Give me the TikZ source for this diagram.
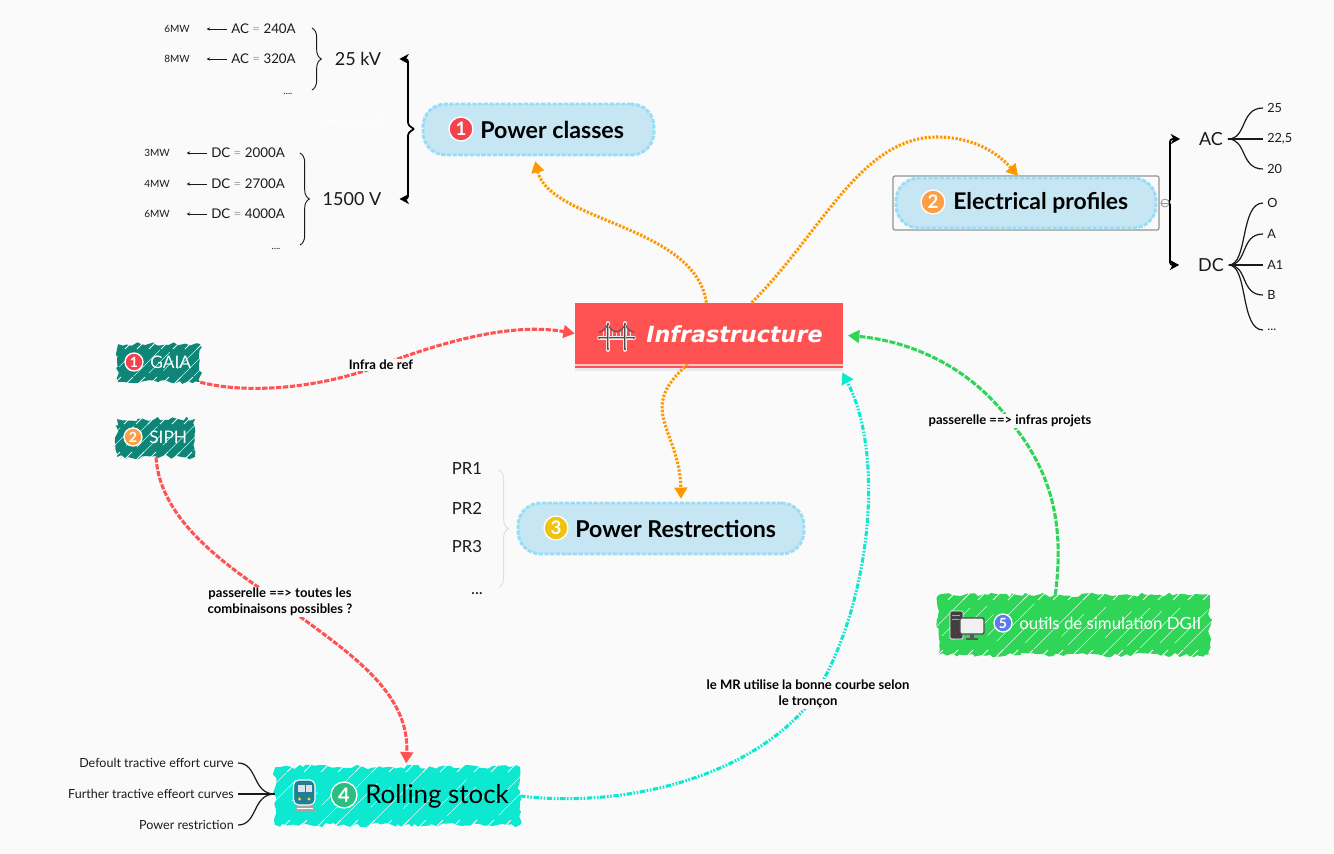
\documentclass[tikz,border=0pt]{standalone}
\usepackage{fontspec}
\setmainfont{Lato}
\newfontfamily\infrafont{DejaVu Sans}
\usetikzlibrary{arrows.meta,calc,decorations.pathmorphing,decorations.pathreplacing}
\definecolor{bgc}{HTML}{FAFAFA}
\definecolor{pillfill}{HTML}{C5E6F2}
\definecolor{pillline}{HTML}{96DDF8}
\definecolor{redc}{HTML}{FF5252}
\definecolor{orangec}{HTML}{FF9800}
\definecolor{badge1}{HTML}{F5434E}
\definecolor{badge2}{HTML}{FF9E44}
\definecolor{badge3}{HTML}{F0C30F}
\definecolor{badge4}{HTML}{2BBF7F}
\definecolor{badge5}{HTML}{5B7DEB}
\definecolor{tealc}{HTML}{0F8577}
\definecolor{cyanc}{HTML}{0DE8D0}
\definecolor{greenc}{HTML}{2ED556}
\definecolor{trainc}{HTML}{1E7F96}
\definecolor{txt}{HTML}{1A1A1A}
\newcommand{\fs}[1]{\fontsize{#1}{#1}\selectfont}
% white scratches over a sketched box: x0 y0 x1 y1 step
\newcommand{\hatchbox}[5]{%
  \begin{scope}
    \clip (#1-3,#2-3) rectangle (#3+3,#4+3);
    \pgfmathsetmacro{\hh}{#4-#2}
    \pgfmathtruncatemacro{\nn}{(#3-#1+\hh)/#5}
    \foreach \k in {0,...,\nn}{
      \pgfmathsetmacro{\xs}{#1-\hh+\k*#5}
      \pgfmathsetmacro{\fa}{rnd*.45}
      \pgfmathsetmacro{\fb}{.55+rnd*.45}
      \draw[white,line width=.35pt,opacity=.8] ({\xs+\fa*\hh},{#4-\fa*\hh}) -- ({\xs+\fb*\hh},{#4-\fb*\hh});
      \draw[bgc,line width=.6pt] ({\xs-2},{#4+2}) -- ({\xs+5},{#4-5});
      \draw[bgc,line width=.6pt] ({\xs+\hh-5},{#2+5}) -- ({\xs+\hh+2},{#2-2});
    }
  \end{scope}}
\tikzset{
  lab/.style={inner sep=0pt,text=txt},
  pill/.style n args={2}{draw=pillline,fill=pillfill,line width=2.2pt,dash pattern=on 3.2pt off 1.1pt,
    rounded corners=17pt,minimum width=#1*.75pt,minimum height=#2*.75pt,inner sep=0pt},
  sketch/.style n args={3}{fill=#1,minimum width=#2*.75pt,minimum height=#3*.75pt,inner sep=0pt,
    decorate,decoration={random steps,segment length=3.2pt,amplitude=1.7pt}},
  badge/.style n args={3}{circle,fill=#1,draw=white,line width=1pt,minimum size=#2*.75pt,inner sep=0pt,
    text=white,font=\bfseries\fs{#3}},
  conn/.style={line width=2.3pt,-{Triangle[width=9.5pt,length=8.5pt]}},
  dotc/.style={conn,draw=orangec,color=orangec,dash pattern=on 1.7pt off 1.2pt},
  dashr/.style={conn,draw=redc,color=redc,dash pattern=on 4pt off 1.2pt},
  dashg/.style={conn,draw=greenc,color=greenc,dash pattern=on 4.5pt off 1.2pt},
  dashc/.style={conn,draw=cyanc,color=cyanc,dash pattern=on 4pt off 1.2pt on 1.2pt off 1.2pt on 1.2pt off 1.2pt},
  edgelab/.style={fill=bgc,inner sep=1pt,align=center,text=black,font=\fs{9.8}\bfseries},
  brc/.style={decorate,decoration={brace,amplitude=7pt},line width=.7pt,draw=txt},
  thin tree/.style={line width=.9pt,draw=txt},
  small arr/.style={line width=.6pt,draw=txt,<-,>={Stealth[length=2.5pt,width=2.5pt]}},
  big arr/.style={line width=1.3pt,draw=black,>={Stealth[length=7pt,width=7.5pt,inset=2pt]},rounded corners=2pt},
}
\begin{document}
\begin{tikzpicture}[x=.75pt,y=-.75pt]
\pgfmathsetseed{11}
\path[use as bounding box,fill=bgc] (0,0) rectangle (1334,853);

% central node
\fill[blue!6!gray!15] (575,368) rectangle (843,371);
\fill[redc!35] (575,364) rectangle (843,368);
\fill[redc] (575,366.2) rectangle (843,367.6);
\node (infra) [fill=redc,minimum width=201pt,minimum height=46pt,inner sep=0pt] at (709,333.5) {};
\node (infrat) [inner sep=0pt,text=white,anchor=west,font=\infrafont\itshape\bfseries\fs{16.7}] at (646,334) {Infrastructure};
% bridge icon
\begin{scope}[line cap=round]
  \draw[white!85!redc,line width=3pt] (599,338) -- (634,338);
  \draw[white!85!redc,line width=2.8pt] (608,323) -- (608,350) (625,323) -- (625,350);
  \draw[white!80!gray,line width=.5pt] (612,331) -- (612,337) (616,333) -- (616,337) (620,332) -- (620,337) (603,331) -- (603,337) (630,331) -- (630,337);
  \draw[black!65,line width=.9pt] (599,332) .. controls (603,332) and (606,328) .. (608,324)
    .. controls (611,334) and (622,334) .. (625,324) .. controls (627,328) and (630,332) .. (634,332);
  \draw[black!70,line width=2.1pt] (599,338) -- (634,338);
  \draw[gray!50,line width=.5pt] (600,338) -- (633,338);
  \draw[black!70,line width=1.9pt] (608,324) -- (608,349) (625,324) -- (625,349);
  \draw[gray!60,line width=.5pt] (608,325) -- (608,348) (625,325) -- (625,348);
\end{scope}

% Power classes
\node (pc) [pill={231}{51}] at (538.5,129.5) {};
\node (pcb) [badge={badge1}{24}{14}] at (461,129) {1};
\node (pct) [inner sep=0pt,anchor=west,text=black,font=\bfseries\fs{17.4}] at (480,130) {Power classes};

% Electrical profiles
\node (epf) [draw=gray!85,line width=.9pt,rounded corners=1.5pt,minimum width=199.5pt,minimum height=40.5pt,inner sep=0pt] at (1026,203) {};
\node (ep) [pill={260}{50}] at (1026,203) {};
\node (epb) [badge={badge2}{24}{14}] at (933,202) {2};
\node (ept) [inner sep=0pt,anchor=west,text=black,font=\bfseries\fs{17.2}] at (953,203) {Electrical profiles};

% Power restrictions
\node (pr) [pill={286}{51}] at (661,528.5) {};
\node (prb) [badge={badge3}{24}{14}] at (556,528) {3};
\node (prt) [inner sep=0pt,anchor=west,text=black,font=\bfseries\fs{17.4}] at (575,529) {Power Restrections};

% GAIA and SIPH
\node (gaia) [sketch={tealc}{82}{38}] at (159,363) {};
\hatchbox{118}{344}{200}{382}{12}
\node (gaiab) [badge={badge1}{18}{10.5}] at (134,362) {1};
\node (gaiat) [inner sep=0pt,anchor=west,text=white,font=\fs{13}] at (150,362) {GAIA};

\node (siph) [sketch={tealc}{78}{38}] at (156,438) {};
\hatchbox{117}{419}{195}{457}{12}
\node (siphb) [badge={badge2}{18}{10.5}] at (133,437) {2};
\node (sipht) [inner sep=0pt,anchor=west,text=white,font=\fs{13}] at (149,437) {SIPH};

% Rolling stock
\node (rs) [sketch={cyanc}{245}{58}] at (397.5,796) {};
\hatchbox{275}{767}{520}{825}{17}
% train icon
\fill[gray!70] (298,804) -- (312,804) -- (315,811) -- (295,811) -- cycle;
\fill[white] (297,808) rectangle (313,809);
\draw[white,line width=.8pt,fill=trainc,rounded corners=4pt] (293.5,780) rectangle (315,805);
\fill[blue!15!gray!22] (298,785) rectangle (304.5,792);
\fill[blue!15!gray!22] (305.5,785) rectangle (311.5,792);
\fill[yellow!80!orange] (299.5,799) circle (1.7);
\fill[yellow!80!orange] (309,799) circle (1.7);
\node (rsb) [badge={badge4}{26}{15}] at (344,795) {4};
\node (rst) [inner sep=0pt,anchor=west,text=black,font=\fs{19.4}] at (365,796) {Rolling stock};

% outils de simulation
\node (os) [sketch={greenc}{272}{60}] at (1074,625) {};
\hatchbox{938}{595}{1210}{655}{15}
% computer icon
\draw[white,line width=.5pt,fill=black!75,rounded corners=1pt] (950,611) rectangle (963,639);
\draw[gray!70,line width=.7pt] (952,615) -- (960,615) (952,619) -- (960,619);
\fill[red] (956,633) circle (1.2);
\fill[gray!70!black] (970,634) rectangle (974,638);
\fill[gray!70!black] (966,638) rectangle (978,640);
\draw[black!70,line width=1pt,fill=gray!12,rounded corners=1pt] (960,618) rectangle (984,634);
\node (osb) [badge={badge5}{18}{10.5}] at (1003,623) {5};
\node (ost) [inner sep=0pt,anchor=west,text=white,font=\fs{12.6}] at (1019,623) {outils de simulation DGII};

% connectors from the central node
\draw[dotc] ([xshift=-2pt]infra.north) .. controls (695,225) and (550,222) .. ([xshift=-2.5pt,yshift=-3.5pt]pc.south);
\coordinate (arcTop) at (937,137);
\draw[dotc] ([xshift=32pt]infra.north) .. controls (820,235) and (860,137) .. (arcTop)
  .. controls (970,137) and (995,150) .. ([xshift=-6pt,yshift=.5pt]ep.north);
\draw[dotc] ([xshift=-16pt]infra.south) .. controls (635,410) and (680,430) .. ([xshift=15pt,yshift=2pt]pr.north);

% connectors into the central node
\coordinate (g1) at (381,365);
\draw[dashr] (gaia.south east) .. controls (255,396) and (330,385) .. (g1)
  .. controls (440,343) and (510,322) .. (infra.west);
\coordinate (s1) at (280,602);
\draw[dashr] (siph.south) .. controls (160,520) and (225,565) .. (s1)
  .. controls (345,650) and (410,690) .. ([xshift=6.5pt,yshift=2.5pt]rs.north);
\coordinate (c1) at (808,705);
\draw[dashc] (rs.east) .. controls (620,808) and (745,780) .. (c1)
  .. controls (868,620) and (888,460) .. ([xshift=100pt,yshift=-6pt]infra.south);
\coordinate (o1) at (1010,421);
\draw[dashg] ([xshift=-14pt]os.north) .. controls (1065,520) and (1050,470) .. (o1)
  .. controls (965,360) and (900,340) .. ([xshift=3.5pt,yshift=-1.5pt]infra.east);

% connector labels
\node (lg) [edgelab] at (381,365) {Infra de ref};
\node (ls) [edgelab] at (280,602) {passerelle ==> toutes les\\[2pt]combinaisons possibles ?};
\node (lc) [edgelab] at (808,694) {le MR utilise la bonne courbe selon\\[2pt]le tronçon};
\node (lo) [edgelab] at (1010,421) {passerelle ==> infras projets};

% 25 kV branch
\node (mw1) [lab,anchor=east,font=\fs{7.5}] at (190,29) {6MW};
\node (ac1) [lab,anchor=west,font=\fs{10}] at (231,29) {AC {\color{gray!70}=} 240A};
\node (mw2) [lab,anchor=east,font=\fs{7.5}] at (190,59) {8MW};
\node (ac2) [lab,anchor=west,font=\fs{10}] at (231,59) {AC {\color{gray!70}=} 320A};
\node (ac3) [lab,font=\fs{7}] at (288,94) {....};
\draw[small arr] ([xshift=12.5pt]mw1.east) -- ([xshift=-3pt]ac1.west);
\draw[small arr] ([xshift=12.5pt]mw2.east) -- ([xshift=-3pt]ac2.west);
\coordinate (b1a) at (312,28);
\coordinate (b1b) at (312,90);
\draw[brc] (b1a) -- (b1b);
\node (v25) [lab,font=\fs{13.5}] at (358,59) {25 kV};

% 1500 V branch
\node (mw3) [lab,anchor=east,font=\fs{7.5}] at (170,153) {3MW};
\node (dc1) [lab,anchor=west,font=\fs{10}] at (211,153) {DC {\color{gray!70}=} 2000A};
\node (mw4) [lab,anchor=east,font=\fs{7.5}] at (170,184) {4MW};
\node (dc2) [lab,anchor=west,font=\fs{10}] at (211,184) {DC {\color{gray!70}=} 2700A};
\node (mw5) [lab,anchor=east,font=\fs{7.5}] at (170,214) {6MW};
\node (dc3) [lab,anchor=west,font=\fs{10}] at (211,214) {DC {\color{gray!70}=} 4000A};
\node (dc4) [lab,font=\fs{7}] at (276,249) {....};
\draw[small arr] ([xshift=12.5pt]mw3.east) -- ([xshift=-3pt]dc1.west);
\draw[small arr] ([xshift=12.5pt]mw4.east) -- ([xshift=-3pt]dc2.west);
\draw[small arr] ([xshift=12.5pt]mw5.east) -- ([xshift=-3pt]dc3.west);
\coordinate (b2a) at (300,153);
\coordinate (b2b) at (300,245);
\draw[brc] (b2a) -- (b2b);
\node (v15) [lab,font=\fs{13.5}] at (352,199) {1500 V};

% bracket to Power classes
\node (sous) [inner sep=0pt,text=white,font=\fs{8.5}] at (352,122) {Sous-sujet 3};
\coordinate (pcj) at (414,129);
\draw[big arr,<-] ([xshift=13.5pt]v25.east) -- (408,59) -- (408,125) -- (pcj);
\draw[big arr,<-] ([xshift=13.5pt]v15.east) -- (408,199) -- (408,133) -- (pcj);

% right bracket with AC and DC
\coordinate (epj) at (1161,202);
\node (acn) [lab,font=\fs{13.5}] at (1211,139) {AC};
\node (dcn) [lab,font=\fs{13.5}] at (1211,265) {DC};
\draw[big arr,->] (epj) -- (1170,202) -- (1170,139) -- ([xshift=-14pt]acn.west);
\draw[big arr,->] (epj) -- (1170,202) -- (1170,265) -- ([xshift=-14pt]dcn.west);
\node (epm) [circle,draw=gray!85,fill=bgc,line width=.6pt,minimum size=6pt,inner sep=0pt] at (1165,203) {};
\draw[gray!85,line width=.5pt] (epm.west) -- (epm.east);

% AC leaves
\node (a1) [lab,anchor=west,font=\fs{9.5}] at (1267,108) {25};
\node (a2) [lab,anchor=west,font=\fs{9.5}] at (1267,139) {22,5};
\node (a3) [lab,anchor=west,font=\fs{9.5}] at (1267,169) {20};
\foreach \t in {a1,a2,a3}
  \draw[thin tree] ([xshift=3.5pt]acn.east) .. controls ($(acn.east)+(24,0)$) and ($(\t.west)+(-27,0)$) .. ([xshift=-3pt]\t.west);

% DC leaves
\node (d1) [lab,anchor=west,font=\fs{9.5}] at (1267,203) {O};
\node (d2) [lab,anchor=west,font=\fs{9.5}] at (1267,234) {A};
\node (d3) [lab,anchor=west,font=\fs{9.5}] at (1267,265) {A1};
\node (d4) [lab,anchor=west,font=\fs{9.5}] at (1267,295) {B};
\node (d5) [lab,anchor=west,font=\fs{9.5}] at (1267,330) {...};
\foreach \t in {d1,d2,d3,d4,d5}
  \draw[thin tree] ([xshift=3.5pt]dcn.east) .. controls ($(dcn.east)+(24,0)$) and ($(\t.west)+(-27,0)$) .. ([xshift=-3pt]\t.west);

% PR list
\node (pr1) [lab,font=\fs{12.5}] at (467,469) {PR1};
\node (pr2) [lab,font=\fs{12.5}] at (467,508) {PR2};
\node (pr3) [lab,font=\fs{12.5}] at (467,547) {PR3};
\node (pr4) [lab,font=\fs{12.5}] at (477,594) {...};
\coordinate (b3a) at (499,470);
\coordinate (b3b) at (499,587);
\draw[brc,draw=gray!25] (b3a) -- (b3b);

% rolling stock leaves
\node (r1) [lab,anchor=east,font=\fs{9.4}] at (234,763) {Defoult tractive effort curve};
\node (r2) [lab,anchor=east,font=\fs{9.4}] at (234,794) {Further tractive effeort curves};
\node (r3) [lab,anchor=east,font=\fs{9.4}] at (234,825) {Power restriction};
\foreach \t in {r1,r2,r3}
  \draw[thin tree] ([yshift=1.5pt]rs.west) .. controls (252,794) and ($(\t.east)+(24,0)$) .. ([xshift=3pt]\t.east);
\end{tikzpicture}
\end{document}
